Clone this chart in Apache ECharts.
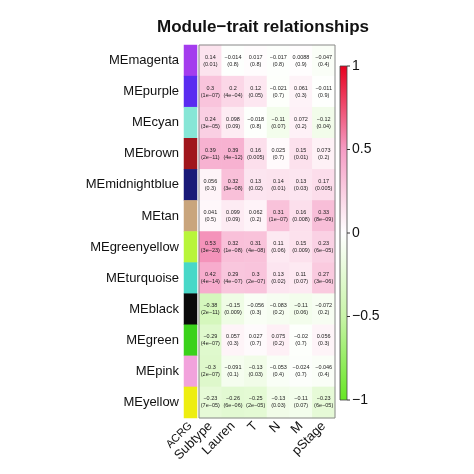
<!DOCTYPE html>
<html><head><meta charset="utf-8">
<script src="https://cdn.jsdelivr.net/npm/echarts@6/dist/echarts.min.js"></script>
<style>html,body{margin:0;padding:0;background:#fff}#c{width:474px;height:474px}</style>
</head><body><div id="c"></div>
<script>
const modules = ['MEmagenta','MEpurple','MEcyan','MEbrown','MEmidnightblue','MEtan','MEgreenyellow','MEturquoise','MEblack','MEgreen','MEpink','MEyellow'];
const moduleColors = ['#a43cee','#5a2cf0','#86e6d6','#a0161c','#1a1a78','#c9a57c','#b8f53a','#48d8c8','#0a0a0a','#3ad21a','#f2a2dc','#eeee10'];
const traits = ['Subtype','Lauren','T','N','M','pStage'];
const stripLabel = ['ACRG'];
const corr = [
 [0.14,-0.014,0.017,-0.017,0.0088,-0.047],
 [0.3,0.2,0.12,-0.021,0.061,-0.011],
 [0.24,0.098,-0.018,-0.11,0.072,-0.12],
 [0.39,0.39,0.16,0.025,0.15,0.073],
 [0.056,0.32,0.13,0.14,0.13,0.17],
 [0.041,0.099,0.062,0.31,0.16,0.33],
 [0.53,0.32,0.31,0.11,0.15,0.23],
 [0.42,0.29,0.3,0.13,0.11,0.27],
 [-0.38,-0.15,-0.056,-0.083,-0.11,-0.072],
 [-0.29,0.057,0.027,0.075,-0.02,0.056],
 [-0.3,-0.091,-0.13,-0.053,-0.024,-0.046],
 [-0.23,-0.26,-0.25,-0.13,-0.11,-0.23]
];
const pvals = [
 ['0.01','0.8','0.8','0.8','0.9','0.4'],
 ['1e-07','4e-04','0.05','0.7','0.3','0.9'],
 ['3e-05','0.09','0.8','0.07','0.2','0.04'],
 ['2e-11','4e-12','0.005','0.7','0.01','0.2'],
 ['0.3','3e-08','0.02','0.01','0.03','0.005'],
 ['0.5','0.09','0.2','1e-07','0.008','8e-09'],
 ['3e-23','1e-08','4e-08','0.06','0.009','6e-05'],
 ['4e-14','4e-07','2e-07','0.02','0.07','3e-06'],
 ['2e-11','0.009','0.3','0.2','0.06','0.2'],
 ['4e-07','0.3','0.7','0.2','0.7','0.3'],
 ['2e-07','0.1','0.03','0.4','0.7','0.4'],
 ['7e-05','6e-06','2e-05','0.03','0.07','6e-05']
];
(function(){
const fmt = v => (v<0?'\u2212':'') + Math.abs(v);
const data = [];
corr.forEach((row,i)=>row.forEach((v,j)=>data.push({value:[j,i,v],p:pvals[i][j]})));
const strip = modules.map((m,i)=>({value:[0,i,0],itemStyle:{color:moduleColors[i]}}));
const gTop=45,gBottom=56;
const chart = echarts.init(document.getElementById('c'),null,{renderer:'canvas'});
chart.setOption({
 animation:false,
 title:{text:'Module\u2212trait relationships',left:258,top:14,textAlign:'center',textStyle:{fontFamily:'Liberation Sans',fontSize:17,fontWeight:'bold',color:'#111'}},
 grid:[
  {left:184,width:13,top:gTop,bottom:gBottom},
  {left:199,width:136,top:gTop,bottom:gBottom}
 ],
 xAxis:[
  {type:'category',gridIndex:0,data:stripLabel,axisLine:{show:false},axisTick:{show:false},axisLabel:{rotate:45,fontSize:11,fontFamily:'Liberation Sans',color:'#111',margin:6}},
  {type:'category',gridIndex:1,data:traits,axisLine:{show:false},axisTick:{show:false},axisLabel:{rotate:45,fontSize:13,fontFamily:'Liberation Sans',color:'#111',margin:6,interval:0}}
 ],
 yAxis:[
  {type:'category',gridIndex:0,data:modules,inverse:true,axisLine:{show:false},axisTick:{show:false},axisLabel:{fontSize:13,fontFamily:'Liberation Sans',color:'#111',margin:5}},
  {type:'category',gridIndex:1,data:modules,inverse:true,axisLine:{show:false},axisTick:{show:false},axisLabel:{show:false}}
 ],
 visualMap:{type:'continuous',seriesIndex:1,min:-1,max:1,show:false,
  inRange:{color:['#66e622','#c8f4a8','#ffffff','#f59cc4','#e8001e']}},
 series:[
  {type:'heatmap',xAxisIndex:0,yAxisIndex:0,data:strip,silent:true},
  {type:'heatmap',xAxisIndex:1,yAxisIndex:1,data:data,
   label:{show:true,fontSize:5.5,lineHeight:7,color:'#222',fontFamily:'Liberation Sans',
    formatter:p=>fmt(p.data.value[2])+'\n('+p.data.p.replace('-','\u2212')+')'}}
 ],
 graphic:(function(){
  const g=[];const x=340,y0=66,h=334,w=7;
  const stops=['#e8001e','#f59cc4','#ffffff','#c8f4a8','#66e622'];
  g.push({type:'rect',z:100,shape:{x:199,y:gTop,width:136,height:474-gTop-gBottom},style:{fill:'none',stroke:'#888',lineWidth:1}});
  g.push({type:'rect',shape:{x:x,y:y0,width:w,height:h},style:{fill:new echarts.graphic.LinearGradient(0,0,0,1,stops.map((c,i)=>({offset:i/4,color:c}))),stroke:'#444',lineWidth:0.8}});
  ['1','0.5','0','\u22120.5','\u22121'].forEach((t,i)=>{const yy=y0+h*i/4;
   g.push({type:'line',shape:{x1:x+w,y1:yy,x2:x+w+3,y2:yy},style:{stroke:'#333'}});
   g.push({type:'text',x:x+w+5,y:yy,style:{text:t,fontSize:14,fontFamily:'Liberation Sans',fill:'#111',verticalAlign:'middle'}});});
  return g;})()
});
})();
</script></body></html>
